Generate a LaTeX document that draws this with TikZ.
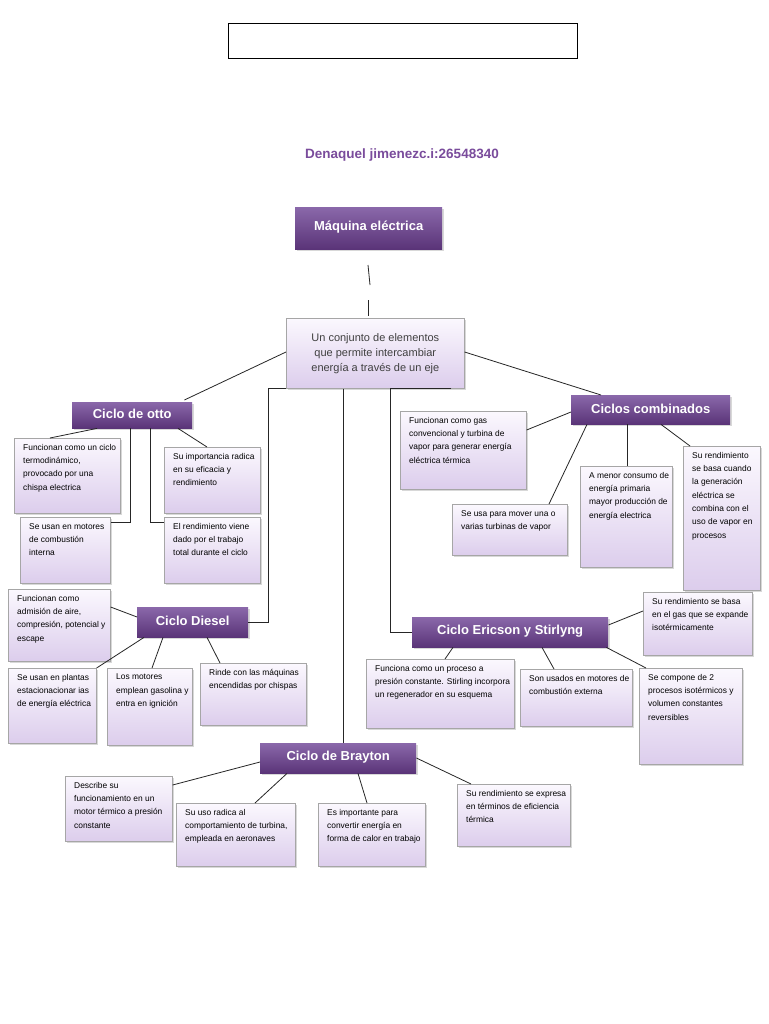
\documentclass[tikz,border=0pt]{standalone}
\usepackage{fontspec}
\setmainfont{Liberation Sans}
\usetikzlibrary{shadows}
\definecolor{hdtop}{HTML}{8A68AA}
\definecolor{hdbot}{HTML}{5A3478}
\definecolor{bxtop}{HTML}{FBF8FE}
\definecolor{bxbot}{HTML}{DCCDEC}
\definecolor{ttl}{HTML}{7A4C9C}
\begin{document}
\begin{tikzpicture}[x=1pt,y=-1pt,
 sbox/.style={draw=gray!70,line width=0.6pt,top color=bxtop,bottom color=bxbot,drop shadow={shadow xshift=2pt,shadow yshift=-2pt,fill=gray!60},inner sep=0pt},
 stext/.style={anchor=north west,inner sep=0pt,align=flush left,font=\fontsize{8.4}{13.3}\selectfont,execute at begin node={\hyphenpenalty=10000\exhyphenpenalty=10000}},
 hbox/.style={top color=hdtop,bottom color=hdbot,drop shadow={shadow xshift=2pt,shadow yshift=-2pt,fill=gray!60},inner sep=0pt},
 ln/.style={line width=0.8pt,black!85}]
\newcommand\bx[6]{\node[sbox,minimum width=#4pt,minimum height=#5pt,anchor=north west] (#1) at (#2,#3) {};
 \node[stext,text width=\dimexpr#4pt-12pt\relax] at ([xshift=9pt,yshift=-6pt]#1.north west) {#6};}
\newcommand\hd[6]{\node[hbox,minimum width=#4pt,minimum height=#5pt,anchor=north west] (#1) at (#2,#3) {};
 \node[text=white,font=\fontsize{13}{15}\selectfont\bfseries] at ([yshift=1pt]#1.center) {#6};}
\useasboundingbox (0,0) rectangle (768,1024);
\fill[white] (0,0) rectangle (768,1024);
\node[draw,line width=0.8pt,minimum width=349pt,minimum height=35pt,anchor=north west] (top) at (228,23) {};
\node[text=ttl,font=\fontsize{13.5}{15}\selectfont\bfseries] (title) at (402,155) {Denaquel jimenezc.i:26548340};
\hd{maq}{295}{207}{147}{42}{M\'aquina el\'ectrica}
\coordinate (d1) at (368,265); \coordinate (d2) at (370,285);
\coordinate (d3) at (368,300);
\draw[ln] (d1)--(d2); \draw[ln] (d3)--(368,316);
\node[sbox,minimum width=178pt,minimum height=70pt,anchor=north west] (cen) at (286,318) {};
\node[align=center,font=\fontsize{11}{15}\selectfont,text=black!75] at (cen.center) {Un conjunto de elementos\\que permite intercambiar\\energ\'ia a trav\'es de un eje};
% headers
\hd{otto}{72}{402}{120}{26}{Ciclo de otto}
\hd{dies}{137}{607}{111}{30}{Ciclo Diesel}
\hd{bray}{260}{743}{156}{30}{Ciclo de Brayton}
\hd{comb}{571}{395}{159}{29}{Ciclos combinados}
\hd{eric}{412}{617}{196}{30}{Ciclo Ericson y Stirlyng}
% boxes
\bx{a}{14}{438}{106}{75}{Funcionan como un ciclo termodin\'amico, provocado por una chispa electrica}
\bx{b}{20}{517}{90}{66}{Se usan en motores de combusti\'on interna}
\bx{c}{164}{447}{96}{66}{Su importancia radica en su eficacia y rendimiento}
\bx{d}{164}{517}{96}{66}{El rendimiento viene dado por el trabajo total durante el ciclo}
\bx{e}{8}{589}{102}{72}{Funcionan como admisi\'on de aire, compresi\'on, potencial y escape}
\bx{f}{8}{668}{88}{75}{Se usan en plantas estacionacionar ias de energ\'ia el\'ectrica}
\bx{g}{107}{668}{85}{77}{Los motores emplean gasolina y entra en ignici\'on}
\bx{h}{200}{663}{106}{62}{Rinde con las m\'aquinas encendidas por chispas}
\bx{i}{65}{776}{107}{65}{Describe su funcionamiento en un motor t\'ermico a presi\'on constante}
\bx{j}{176}{803}{119}{63}{Su uso radica al comportamiento de turbina, empleada en aeronaves}
\bx{k}{318}{803}{107}{63}{Es importante para convertir energ\'ia en forma de calor en trabajo}
\bx{l}{457}{784}{113}{62}{Su rendimiento se expresa en t\'erminos de eficiencia t\'ermica}
\bx{m}{400}{411}{126}{78}{Funcionan como gas convencional y turbina de vapor para generar energ\'ia el\'ectrica t\'ermica}
\bx{n}{452}{504}{115}{51}{Se usa para mover una o varias turbinas de vapor}
\bx{o}{580}{466}{92}{101}{A menor consumo de energ\'ia primaria mayor producci\'on de energ\'ia electrica}
\bx{p}{683}{446}{77}{144}{Su rendimiento se basa cuando la generaci\'on el\'ectrica se combina con el uso de vapor en procesos}
\bx{q}{643}{592}{109}{63}{Su rendimiento se basa en el gas que se expande isot\'ermicamente}
\bx{r}{366}{659}{148}{69}{Funciona como un proceso a presi\'on constante. Stirling incorpora un regenerador en su esquema}
\bx{s}{520}{669}{112}{57}{Son usados en motores de combusti\'on externa}
\bx{t}{639}{668}{103}{96}{Se compone de 2 procesos isot\'ermicos y volumen constantes reversibles}
% connectors
\draw[ln] ([yshift=-34pt]cen.north west) -- ([xshift=-8pt,yshift=2pt]otto.north east);
\draw[ln] ([yshift=-34pt]cen.north east) -- ([xshift=30pt]comb.north west);
\draw[ln] (cen.south west) -- ([xshift=-18pt]cen.south west) |- (dies.east);
\draw[ln] ([xshift=57pt]cen.south west) -- ([xshift=83pt]bray.north west);
\draw[ln] ([xshift=76pt]cen.south) -- ([xshift=104pt]cen.south west) |- (eric.west);
\draw[ln] ([xshift=25pt]otto.south west) -- ([xshift=36pt]a.north west);
\draw[ln] ([xshift=58pt]otto.south west) |- ([yshift=-5pt]b.north east);
\draw[ln] ([xshift=78pt]otto.south west) |- ([yshift=-5pt]d.north west);
\draw[ln] ([xshift=106pt]otto.south west) -- ([xshift=43pt]c.north west);
\draw[ln] ([yshift=-10pt]dies.north west) -- ([yshift=-18pt]e.north east);
\draw[ln] ([xshift=7pt]dies.south west) -- (f.north east);
\draw[ln] ([xshift=26pt]dies.south west) -- ([xshift=45pt]g.north west);
\draw[ln] ([xshift=70pt]dies.south west) -- ([xshift=20pt]h.north west);
\draw[ln] ([yshift=-19pt]bray.north west) -- ([yshift=-9pt]i.north east);
\draw[ln] ([xshift=27pt]bray.south west) -- ([xshift=79pt]j.north west);
\draw[ln] ([xshift=98pt]bray.south west) -- ([xshift=49pt]k.north west);
\draw[ln] ([yshift=-15pt]bray.north east) -- ([xshift=14pt]l.north west);
\draw[ln] ([yshift=-17pt]comb.north west) -- ([yshift=-19pt]m.north east);
\draw[ln] ([xshift=16pt]comb.south west) -- ([xshift=97pt]n.north west);
\draw[ln] ([xshift=56pt]comb.south west) -- ([xshift=47pt]o.north west);
\draw[ln] ([xshift=90pt]comb.south west) -- ([xshift=7pt]p.north west);
\draw[ln] ([yshift=-8pt]eric.north east) -- ([yshift=-19pt]q.north west);
\draw[ln] ([xshift=41pt]eric.south west) -- ([xshift=79pt]r.north west);
\draw[ln] ([xshift=130pt]eric.south west) -- ([xshift=34pt]s.north west);
\draw[ln] ([xshift=-2pt]eric.south east) -- ([xshift=7pt]t.north west);
\end{tikzpicture}
\end{document}
